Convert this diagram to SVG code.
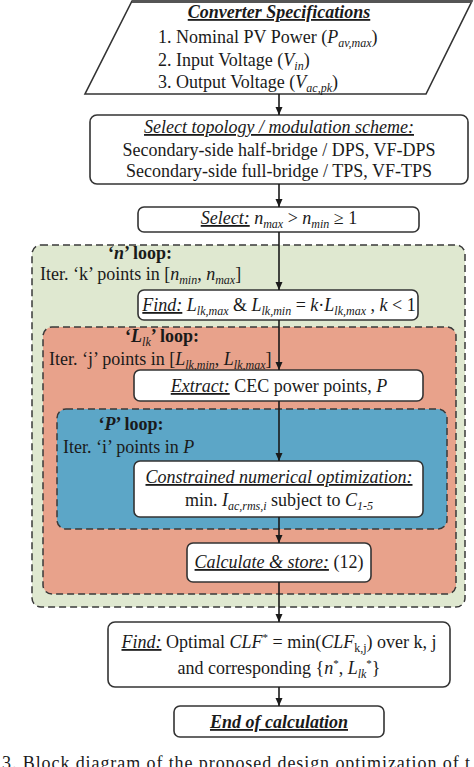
<svg xmlns="http://www.w3.org/2000/svg" width="474" height="767" viewBox="0 0 474 767">
<defs>
<marker id="arr" markerUnits="userSpaceOnUse" markerWidth="8" markerHeight="8" refX="8" refY="3.5" orient="auto">
<path d="M0,0 L8,3.5 L0,7 z" fill="#1a1a1a"/>
</marker>
<style>
text{font-family:"Liberation Serif","Times New Roman",serif;font-size:18px;fill:#1a1a1a}
.box{fill:#fff;stroke:#333;stroke-width:1.6}
.region{stroke:#3a3a3a;stroke-width:1.5;stroke-dasharray:7 4}
.it{font-style:italic}
.bf{font-weight:bold}
.u{text-decoration:underline}
.sub{font-size:12px;font-style:italic}
.conn line{stroke:#1a1a1a;stroke-width:1.6;marker-end:url(#arr)}
</style>
</defs>
<rect width="474" height="767" fill="#fff"/>

<g id="loop-n">
<rect class="region" x="32" y="245" width="433" height="362" rx="9" fill="#dfe8d0"/>
<text x="140" y="259" text-anchor="middle" class="bf">‘<tspan class="it">n</tspan>’ loop:</text>
<text x="40" y="280">Iter. ‘k’ points in [<tspan class="it">n</tspan><tspan class="sub" dy="4">min</tspan><tspan dy="-4">, </tspan><tspan class="it">n</tspan><tspan class="sub" dy="4">max</tspan><tspan dy="-4">]</tspan></text>
</g>

<g id="loop-llk">
<rect class="region" x="43" y="327" width="413" height="267" rx="9" fill="#e8a28b"/>
<text x="162" y="342" text-anchor="middle" class="bf">‘<tspan class="it">L</tspan><tspan class="sub" dy="4" font-weight="normal">lk</tspan><tspan dy="-4">’ loop:</tspan></text>
<text x="49" y="365">Iter. ‘j’ points in [<tspan class="it">L</tspan><tspan class="sub" dy="4">lk,min</tspan><tspan dy="-4">, </tspan><tspan class="it">L</tspan><tspan class="sub" dy="4">lk,max</tspan><tspan dy="-4">]</tspan></text>
</g>

<g id="loop-p">
<rect class="region" x="57" y="409" width="390" height="120" rx="9" fill="#5ca6c7"/>
<text x="131" y="430" text-anchor="middle" class="bf">‘<tspan class="it">P</tspan>’ loop:</text>
<text x="63" y="453">Iter. ‘i’ points in <tspan class="it">P</tspan></text>
</g>

<g id="spec">
<path d="M132,1 L472,1 L426,94 L85,94 Z" fill="#fff" stroke="#333" stroke-width="1.6"/>
<line x1="132" y1="1.5" x2="472" y2="1.5" stroke="#555" stroke-width="3"/>
<text x="279" y="18" text-anchor="middle" class="bf it u">Converter Specifications</text>
<text x="158" y="43" font-size="18.5">1. Nominal PV Power (<tspan class="it">P</tspan><tspan class="sub" dy="4">av,max</tspan><tspan dy="-4">)</tspan></text>
<text x="158" y="66" font-size="18.5">2. Input Voltage (<tspan class="it">V</tspan><tspan class="sub" dy="4">in</tspan><tspan dy="-4">)</tspan></text>
<text x="158" y="88" font-size="18.5">3. Output Voltage (<tspan class="it">V</tspan><tspan class="sub" dy="4">ac,pk</tspan><tspan dy="-4">)</tspan></text>
</g>

<g id="topology">
<rect class="box" x="90" y="115" width="378" height="69" rx="7"/>
<text x="279" y="133" text-anchor="middle" class="it u">Select topology / modulation scheme:</text>
<text x="279" y="156" text-anchor="middle">Secondary-side half-bridge / DPS, VF-DPS</text>
<text x="279" y="177" text-anchor="middle">Secondary-side full-bridge / TPS, VF-TPS</text>
</g>

<g id="select-n">
<rect class="box" x="138" y="207" width="281" height="25" rx="6"/>
<text x="279" y="224" text-anchor="middle"><tspan class="it u">Select:</tspan> <tspan class="it">n</tspan><tspan class="sub" dy="4">max</tspan><tspan dy="-4"> &gt; </tspan><tspan class="it">n</tspan><tspan class="sub" dy="4">min</tspan><tspan dy="-4"> ≥ 1</tspan></text>
</g>

<g id="find-l">
<rect class="box" x="138" y="290" width="280" height="30" rx="6"/>
<text x="279" y="311" text-anchor="middle"><tspan class="it u">Find:</tspan> <tspan class="it">L</tspan><tspan class="sub" dy="4">lk,max</tspan><tspan dy="-4"> &amp; </tspan><tspan class="it">L</tspan><tspan class="sub" dy="4">lk,min</tspan><tspan dy="-4"> = </tspan><tspan class="it">k</tspan>·<tspan class="it">L</tspan><tspan class="sub" dy="4">lk,max</tspan><tspan dy="-4"> , </tspan><tspan class="it">k</tspan> &lt; 1</text>
</g>

<g id="extract">
<rect class="box" x="134" y="370" width="289" height="31" rx="6"/>
<text x="279" y="392" text-anchor="middle"><tspan class="it u">Extract:</tspan> CEC power points, <tspan class="it">P</tspan></text>
</g>

<g id="optimize">
<rect class="box" x="134" y="461" width="289" height="56" rx="6"/>
<text x="279" y="483" text-anchor="middle" class="it u">Constrained numerical optimization:</text>
<text x="279" y="506" text-anchor="middle">min. <tspan class="it">I</tspan><tspan class="sub" dy="4">ac,rms,i</tspan><tspan dy="-4"> subject to </tspan><tspan class="it">C</tspan><tspan class="sub" dy="4">1-5</tspan></text>
</g>

<g id="calculate">
<rect class="box" x="187" y="543" width="184" height="39" rx="6"/>
<text x="279" y="568" text-anchor="middle"><tspan class="it u">Calculate &amp; store:</tspan> (12)</text>
</g>

<g id="find-clf">
<rect class="box" x="108" y="622" width="342" height="65" rx="7"/>
<text x="279" y="648" text-anchor="middle"><tspan class="it u">Find:</tspan> Optimal <tspan class="it">CLF</tspan><tspan font-size="11" dy="-7">*</tspan><tspan dy="7"> = min(</tspan><tspan class="it">CLF</tspan><tspan font-size="12" dy="4">k,j</tspan><tspan dy="-4">) over k, j</tspan></text>
<text x="279" y="674" text-anchor="middle">and corresponding {<tspan class="it">n</tspan><tspan font-size="11" dy="-7">*</tspan><tspan dy="7">, </tspan><tspan class="it">L</tspan><tspan class="sub" dy="4">lk</tspan><tspan font-size="11" dy="-11">*</tspan><tspan dy="7">}</tspan></text>
</g>

<g id="end">
<rect class="box" x="174" y="706" width="210" height="31" rx="6"/>
<text x="279" y="728" text-anchor="middle" class="bf it u">End of calculation</text>
</g>

<g id="connectors" class="conn">
<line x1="279" y1="94" x2="279" y2="115"/>
<line x1="279" y1="184" x2="279" y2="207"/>
<line x1="279" y1="232" x2="279" y2="290"/>
<line x1="279" y1="320" x2="279" y2="370"/>
<line x1="279" y1="401" x2="279" y2="461"/>
<line x1="279" y1="517" x2="279" y2="543"/>
<line x1="279" y1="582" x2="279" y2="622"/>
<line x1="279" y1="687" x2="279" y2="706"/>
</g>

<text x="2" y="769" textLength="468" lengthAdjust="spacing">3. Block diagram of the proposed design optimization of t</text>
</svg>
